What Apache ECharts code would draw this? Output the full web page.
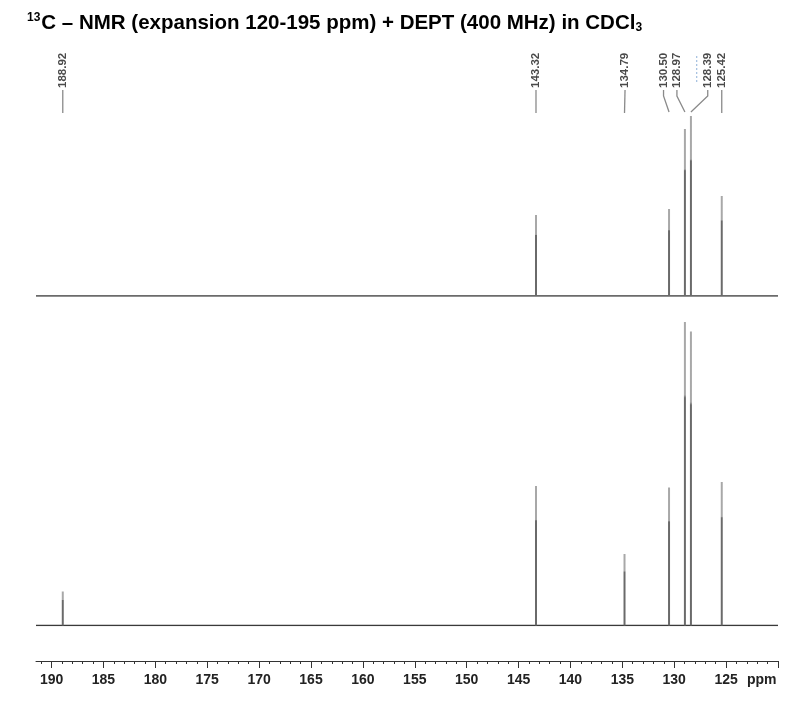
<!DOCTYPE html>
<html>
<head>
<meta charset="utf-8">
<script src="https://cdn.jsdelivr.net/npm/echarts@6/dist/echarts.min.js"></script>
<style>
  html, body { margin: 0; padding: 0; background: #fff; }
  #chart { width: 805px; height: 711px; }
</style>
</head>
<body>
<div id="chart"></div>
<script>
// ppm range of the expansion (axis runs right to left)
const ppmMin = 120;
const ppmMax = 191.5;

// 13C spectrum (bottom trace)
const peakPpm13C = [188.92, 143.32, 134.79, 130.50, 128.97, 128.39, 125.42];
const peakHeight13C = [34, 139.5, 71.5, 138, 303.5, 294, 143.5];

// DEPT spectrum (top trace)
const peakPpmDept = [143.32, 130.50, 128.97, 128.39, 125.42];
const peakHeightDept = [81, 87, 167, 180, 100];

// peak picking labels: value and where the label sits (crowded ones spread out)
const labelPpm = [188.92, 143.32, 134.79, 130.50, 128.97, 128.39, 125.42];
const labelAt = [188.92, 143.32, 134.74, 131.03, 129.74, 126.77, 125.42];

// axis ticks
const majorTicks = [190, 185, 180, 175, 170, 165, 160, 155, 150, 145, 140, 135, 130, 125, 120];
const tickLabels = [190, 185, 180, 175, 170, 165, 160, 155, 150, 145, 140, 135, 130, 125];
const minorTicks = [];
for (let v = 120; v <= 191; v++) minorTicks.push(v);

const peakColor = {
  type: "linear", x: 0, y: 0, x2: 0, y2: 1,
  colorStops: [
    { offset: 0, color: "#a8a8a8" },
    { offset: 0.24, color: "#a8a8a8" },
    { offset: 0.25, color: "#6a6a6a" },
    { offset: 1, color: "#6a6a6a" },
  ],
};

const sticks = (ppm, h) => ppm.map((p, i) => [p, h[i]]);

const chart = echarts.init(document.getElementById("chart"), null, { renderer: "canvas" });

const hiddenX = (gridIndex) => ({
  gridIndex, type: "value", inverse: true, min: ppmMin, max: ppmMax, show: false,
});

const option = {
  animation: false,
  backgroundColor: "#fff",
  title: {
    text: "{sup|13}C – NMR (expansion 120-195 ppm) + DEPT (400 MHz) in CDCl{sub|3}",
    left: 22,
    top: 5,
    textStyle: {
      fontFamily: "Liberation Sans, Arial, sans-serif",
      fontWeight: "bold",
      fontSize: 20.5,
      color: "#000",
      lineHeight: 27,
      rich: {
        sup: { fontSize: 12, fontWeight: "bold", fontFamily: "Liberation Sans, Arial", lineHeight: 27, padding: [0, 1, 11, 0] },
        sub: { fontSize: 12, fontWeight: "bold", fontFamily: "Liberation Sans, Arial", lineHeight: 27, padding: [9, 0, 0, 0] },
      },
    },
  },
  grid: [
    { left: 36, right: 27, top: 100, height: 196 },
    { left: 36, right: 27, top: 300, height: 325.5 },
    { left: 36, right: 27, top: 630, height: 31 },
  ],
  xAxis: [
    hiddenX(0),
    hiddenX(1),
    {
      gridIndex: 2, type: "value", inverse: true, min: ppmMin, max: ppmMax,
      position: "bottom",
      splitLine: { show: false },
      axisLine: { lineStyle: { color: "#333", width: 1 } },
      axisTick: { length: 7, lineStyle: { color: "#333" }, customValues: majorTicks },
      axisLabel: {
        customValues: tickLabels,
        margin: 12,
        fontFamily: "Liberation Sans Narrow, Arial Narrow, Liberation Sans, sans-serif",
        fontWeight: "bold",
        fontSize: 14,
        color: "#222",
      },
    },
    {
      gridIndex: 2, type: "value", inverse: true, min: ppmMin, max: ppmMax,
      position: "bottom",
      splitLine: { show: false },
      axisLine: { show: false },
      axisTick: { length: 3, lineStyle: { color: "#333" }, customValues: minorTicks },
      axisLabel: { show: false },
    },
  ],
  yAxis: [
    { gridIndex: 0, type: "value", min: 0, max: 196, show: false },
    { gridIndex: 1, type: "value", min: 0, max: 325.5, show: false },
    { gridIndex: 2, type: "value", min: 0, max: 1, show: false },
  ],
  series: [
    {
      name: "DEPT baseline", type: "line", xAxisIndex: 0, yAxisIndex: 0,
      data: [[ppmMax, 0], [ppmMin, 0]], showSymbol: false, silent: true,
      lineStyle: { color: "#3a3a3a", width: 1.5 }, z: 2,
    },
    {
      name: "DEPT", type: "bar", xAxisIndex: 0, yAxisIndex: 0,
      data: sticks(peakPpmDept, peakHeightDept), barWidth: 2,
      itemStyle: { color: peakColor }, z: 3,
    },
    {
      name: "13C baseline", type: "line", xAxisIndex: 1, yAxisIndex: 1,
      data: [[ppmMax, 0], [ppmMin, 0]], showSymbol: false, silent: true,
      lineStyle: { color: "#3a3a3a", width: 1.5 }, z: 2,
    },
    {
      name: "13C", type: "bar", xAxisIndex: 1, yAxisIndex: 1,
      data: sticks(peakPpm13C, peakHeight13C), barWidth: 2,
      itemStyle: { color: peakColor }, z: 3,
    },
    {
      name: "labels", type: "custom", xAxisIndex: 0, yAxisIndex: 0, clip: false,
      data: labelPpm.map((p, i) => [p, labelAt[i]]),
      renderItem: (params, api) => {
        const px = api.coord([api.value(0), 0])[0];
        const lx = api.coord([api.value(1), 0])[0];
        const shifted = Math.abs(lx - px) > 2;
        const pts = shifted ? [[lx, 90], [lx, 96], [px, 112]] : [[lx, 90], [px, 113]];
        return {
          type: "group",
          children: [
            { type: "polyline", shape: { points: pts }, style: { stroke: "#8a8a8a", lineWidth: 1.3, fill: null } },
            {
              type: "text", x: lx, y: 88, rotation: Math.PI / 2,
              style: {
                text: api.value(0).toFixed(2), x: 0, y: 0, align: "left", verticalAlign: "middle",
                font: "bold 11.5px Liberation Sans, Arial, sans-serif", fill: "#4a4a4a",
              },
            },
          ],
        };
      },
    },
    {
      name: "stray mark", type: "custom", xAxisIndex: 0, yAxisIndex: 0, clip: false,
      data: [[127.83]],
      renderItem: (params, api) => {
        const x = api.coord([api.value(0), 0])[0];
        return {
          type: "line", shape: { x1: x, y1: 56, x2: x, y2: 83 },
          style: { stroke: "#8fb0d8", lineWidth: 1, lineDash: [2, 2] },
        };
      },
    },
  ],
  graphic: [
    {
      type: "text", left: 747, top: 673,
      style: { text: "ppm", font: "bold 14px Liberation Sans Narrow, Arial Narrow, Liberation Sans, sans-serif", fill: "#222" },
    },
  ],
};

chart.setOption(option);
</script>
</body>
</html>
